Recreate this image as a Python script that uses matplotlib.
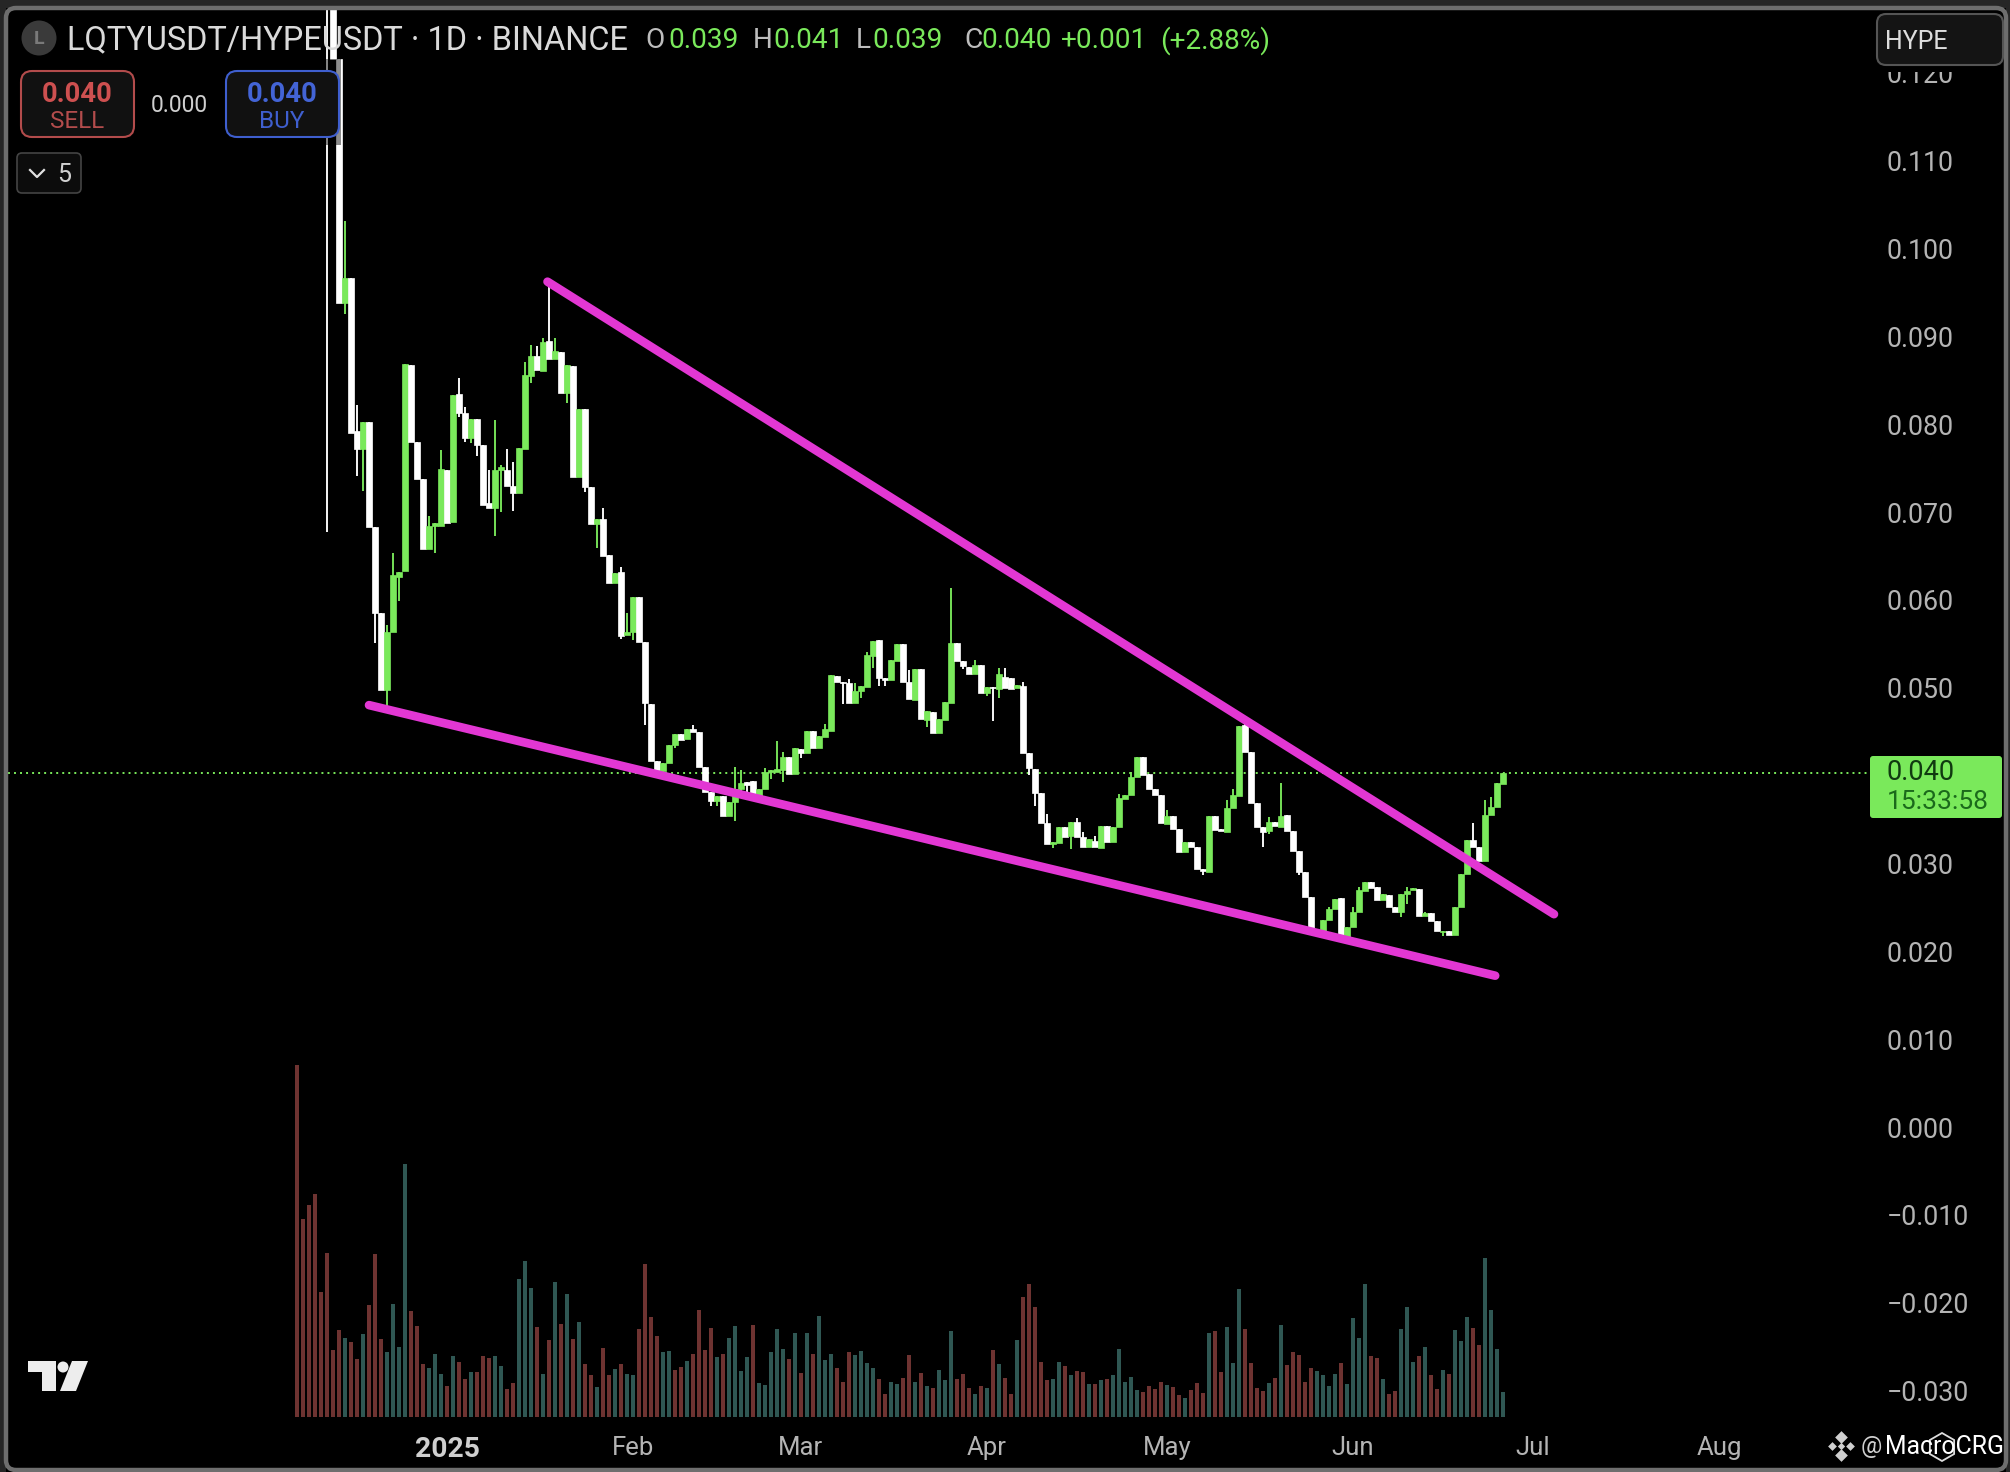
import numpy as np
import pandas as pd
import matplotlib
matplotlib.use("Agg")
import matplotlib.pyplot as plt
from matplotlib.patches import FancyBboxPatch, Rectangle, Circle, Polygon, RegularPolygon
from matplotlib.transforms import ScaledTranslation

plt.rcParams['font.family'] = ['Roboto', 'DejaVu Sans']

W, H = 2010, 1472
first_day = pd.Timestamp('2024-12-07')

# Candle prices, in thousandths of the quote unit. The first bars are above the visible range (estimates).
open_ = [330,250,205,180,165,150,140,121.7,94.0,96.8,
 79.4,77.4,80.4,68.5,58.7,49.9,56.5,62.8,63.5,86.9,
 78.2,73.9,66.0,68.6,68.6,75.0,69.0,83.6,81.4,78.6,
 80.8,77.8,71.2,70.6,75.0,75.0,73.1,72.3,77.4,85.7,
 87.9,86.2,89.6,87.6,88.4,83.7,86.8,74.2,81.9,73.0,
 68.8,69.4,65.3,62.1,63.4,56.2,56.5,60.5,55.4,48.3,
 41.8,40.7,41.6,43.7,44.9,44.3,45.5,45.1,41.2,38.3,
 37.3,37.9,35.6,37.2,38.7,39.4,39.6,37.5,38.7,40.6,
 40.6,40.8,42.3,40.4,43.2,42.8,45.3,43.3,44.6,45.3,
 51.5,50.8,50.7,48.4,49.8,50.3,53.8,55.6,51.3,51.1,
 53.2,55.2,50.8,48.8,52.3,46.5,47.4,45.0,46.5,48.4,
 55.3,53.2,52.5,51.7,52.8,49.6,50.3,50.0,51.4,51.3,
 50.1,50.4,42.7,40.9,38.2,34.8,32.4,32.5,34.3,33.3,
 34.9,33.2,32.0,32.7,31.9,34.4,32.6,34.3,37.5,38.0,
 40.0,42.3,40.4,38.7,38.0,34.7,35.6,34.1,31.5,32.6,
 32.0,29.5,29.2,35.6,34.1,33.8,36.5,37.9,45.9,42.9,
 37.1,34.3,33.9,34.9,34.3,35.7,33.9,31.6,29.2,26.4,
 22.4,22.4,23.7,25.0,26.2,21.6,22.9,24.7,27.0,28.1,
 27.5,26.0,26.6,25.2,24.7,26.7,27.2,27.3,24.2,24.5,
 23.6,22.4,22.5,22.0,25.2,29.0,32.8,32.0,30.5,35.7,
 36.6,39.2]
close = [250,205,180,165,150,140,121.7,94.0,96.8,79.2,
 77.4,80.4,68.5,58.7,49.9,56.5,63.0,63.4,87.0,78.2,
 73.9,66.0,68.6,68.9,75.1,68.9,83.5,81.4,78.6,80.8,
 77.8,71.0,70.6,75.0,75.3,73.1,72.3,77.5,85.8,87.9,
 86.4,89.5,87.6,88.5,83.7,86.9,74.2,81.9,73.0,68.8,
 69.4,65.2,62.1,63.2,56.1,56.5,60.5,55.4,48.4,41.8,
 40.8,41.6,43.7,44.9,44.2,45.5,45.1,41.2,38.3,37.3,
 37.9,35.6,37.2,38.7,39.3,39.1,37.5,38.7,40.6,40.8,
 40.9,42.3,40.4,43.3,42.8,45.3,43.3,44.7,45.5,51.6,
 50.8,50.7,48.4,49.8,50.4,53.9,55.5,51.3,51.1,53.3,
 55.2,50.8,48.9,52.3,46.6,47.5,45.0,46.6,48.6,55.3,
 53.2,52.7,51.7,52.8,49.6,50.3,50.1,51.7,50.1,50.0,
 50.5,42.7,41.0,38.2,34.8,32.4,32.6,34.3,33.2,34.9,
 33.2,32.0,33.0,32.0,34.4,32.6,34.3,37.6,38.0,40.0,
 42.3,40.2,38.7,38.0,34.8,35.6,34.1,31.5,32.6,32.0,
 29.5,29.3,35.6,34.0,33.9,36.5,38.0,45.8,42.9,37.1,
 34.3,33.8,34.9,34.4,35.6,33.9,31.6,29.2,26.4,22.5,
 22.6,23.7,25.0,26.1,21.4,22.9,24.7,27.2,28.1,27.4,
 26.0,26.7,25.2,24.7,26.7,27.0,27.4,24.2,24.5,23.6,
 22.5,22.5,22.0,25.2,29.0,32.8,32.0,30.5,35.7,36.6,
 39.3,40.5]
high = [340,255,210,190,170,155,142,121.7,103.3,96.8,
 82.4,80.4,80.4,68.5,58.7,57.3,65.5,63.4,87.0,86.9,
 78.2,73.9,69.7,68.9,77.2,75.0,83.5,85.4,82.1,80.8,
 80.8,77.8,75.0,80.7,75.5,77.4,75.9,77.5,87.3,89.2,
 89.1,90.0,96.4,90.0,88.4,86.9,86.8,81.9,81.9,73.0,
 69.4,70.6,65.3,63.2,63.9,58.7,60.5,60.5,55.4,48.3,
 41.8,41.6,43.7,44.9,44.9,45.5,45.9,45.1,41.2,38.3,
 37.9,37.9,37.2,41.2,40.8,39.4,39.6,38.7,41.0,40.8,
 44.1,42.9,42.3,43.3,43.2,45.3,45.3,44.7,46.1,51.6,
 51.5,50.8,51.2,50.7,50.4,54.3,55.5,55.6,51.3,53.3,
 55.2,55.2,52.2,52.3,52.3,47.5,47.4,46.6,48.6,61.5,
 55.3,53.2,52.5,53.3,52.8,50.3,50.3,52.4,52.4,51.3,
 50.5,50.8,42.7,40.9,38.2,35.8,32.6,34.3,34.3,34.9,
 35.3,33.8,33.0,33.3,34.4,34.4,34.3,38.1,38.0,40.6,
 42.3,42.3,40.4,38.7,38.0,36.3,35.6,34.1,32.6,32.6,
 32.0,29.5,35.6,35.6,34.1,37.4,38.7,45.8,46.7,42.9,
 37.1,34.3,35.5,34.9,39.3,35.7,33.9,31.6,29.2,26.4,
 22.6,23.7,25.2,26.1,26.2,22.9,25.2,27.5,28.1,28.1,
 27.5,26.7,26.6,25.2,26.7,27.5,27.4,27.3,24.7,24.5,
 23.6,22.5,22.5,25.2,29.0,32.8,34.8,32.0,37.4,37.7,
 39.3,40.5]
low = [240,200,175,160,145,67.9,121.7,94.0,92.7,79.2,
 74.3,72.6,68.5,55.3,49.9,48.0,56.5,60.1,63.5,78.2,
 73.9,66.0,66.0,65.5,68.6,68.9,69.0,81.0,78.2,78.0,
 76.6,71.0,70.6,67.4,70.2,73.1,70.3,72.3,77.4,84.9,
 86.4,86.2,87.6,87.6,83.7,82.6,74.2,74.2,72.5,68.8,
 66.1,65.2,62.1,62.1,55.7,56.2,55.6,55.4,45.9,41.8,
 39.9,40.5,41.6,43.3,44.2,44.3,45.1,41.2,38.3,36.7,
 36.7,35.6,35.6,35.0,37.7,38.0,37.5,37.5,38.7,39.8,
 40.6,39.4,40.4,40.4,42.2,42.8,43.3,43.3,44.6,45.3,
 50.8,48.3,48.4,48.4,49.0,50.3,52.4,50.4,50.4,51.1,
 53.2,50.8,48.9,48.8,46.6,45.7,45.0,45.0,46.5,48.4,
 53.2,52.3,51.7,51.7,49.6,49.2,46.4,49.0,50.1,50.0,
 50.1,42.7,40.2,36.7,34.8,32.4,31.9,32.5,33.2,31.8,
 33.2,32.0,32.0,32.0,31.9,32.6,32.6,34.3,37.5,38.0,
 40.0,40.2,38.7,38.0,34.8,34.7,34.1,31.5,31.5,32.0,
 29.5,28.9,29.2,34.0,33.9,33.8,36.5,37.9,42.9,37.1,
 34.3,32.0,33.5,34.4,34.3,33.9,31.6,28.9,26.4,22.5,
 22.4,22.4,23.7,25.0,21.4,21.6,22.9,24.7,27.0,27.4,
 26.0,26.0,25.2,24.7,24.1,25.6,27.2,24.2,24.2,23.6,
 22.5,21.9,22.0,22.0,25.2,29.0,32.0,30.5,30.5,35.7,
 36.6,39.2]

# Volume pane (no scale in the source, relative units) and the side of each bar
volume = [1055,595,635,670,375,493,202,260,238,224,
 175,248,335,490,233,194,340,209,760,317,
 272,158,146,188,128,92,182,164,113,134,
 134,182,176,182,152,83,101,413,467,386,
 269,128,230,404,278,370,233,284,158,125,
 89,206,125,143,158,128,125,263,458,299,
 242,194,197,140,149,167,188,320,200,266,
 179,188,236,272,137,179,275,101,95,194,
 263,203,173,251,131,251,188,302,170,188,
 146,104,194,185,197,161,146,113,68,104,
 98,116,185,104,131,92,86,140,110,257,
 113,128,86,68,92,86,200,158,116,68,
 230,359,398,329,164,110,113,164,152,125,
 137,134,98,98,110,113,125,203,104,119,
 80,74,92,83,104,95,89,65,56,80,
 101,71,251,257,134,269,161,383,263,161,
 86,77,101,116,275,155,194,185,104,146,
 137,125,92,128,161,98,296,236,398,182,
 176,113,68,77,263,329,164,182,209,125,
 83,140,128,260,227,299,266,215,476,320,
 203,74]
volume_side = ("rrrrrrrrgr" "rgrrrggggr" "rrgggrgrrg" "rrrggrrggg" "rgrgrgrgrr"
               "grrgrggrrr" "rggrrgrrrr" "grggggrggg" "ggrgrgrggg" "rrrggggrrg"
               "grrgrgrggg" "rrrgrgrgrr" "grrrrrggrg" "rrgrgrgggg" "grrrrgrrgr"
               "rrgrrgggrr" "rrgrgrrrrr" "ggggrggggr" "rgrrgggrgr" "rgrgggrrgg"
               "gg")

# Trend lines: day offset from the first bar, price in thousandths
upper_days = [41.75, 209.5]
upper_prices = [96.4, 24.4]
lower_days = [12.0, 199.7]
lower_prices = [48.2, 17.4]

last_price = 40.47
y_tick_values = [120, 110, 100, 90, 80, 70, 60, 50, 30, 20, 10, 0, -10, -20, -30]
y_tick_labels = ['0.120', '0.110', '0.100', '0.090', '0.080', '0.070', '0.060', '0.050',
                 '0.030', '0.020', '0.010', '0.000', '\u22120.010', '\u22120.020', '\u22120.030']
x_tick_dates = ['2025-01-01', '2025-02-01', '2025-03-01', '2025-04-01', '2025-05-01',
                '2025-06-01', '2025-07-01', '2025-08-01']
x_tick_labels = ['2025', 'Feb', 'Mar', 'Apr', 'May', 'Jun', 'Jul', 'Aug']

GREEN = '#7AE95B'
WHITE = '#FFFFFF'
MAGENTA = '#E237D3'
VOL_R = '#6E3331'
VOL_G = '#2F5753'
TICK = '#B4B4B4'

fig = plt.figure(figsize=(W / 100, H / 100), dpi=100, facecolor='#262626')

# Black screen behind every pane
fig.add_artist(Rectangle((6 / W, 0), (W - 10) / W, 1 - 8 / H, transform=fig.transFigure,
                         fc='black', ec='none', zorder=-5))

# Pane geometry (pixels)
L, R, T, B = 8, 1870, 9, 1420
rect = [L / W, 1 - B / H, (R - L) / W, (B - T) / H]
ax = fig.add_axes(rect, facecolor='black')
ax.set_xlim((L - 297) / 6, (R - 297) / 6)
px_per_unit = 8.785
ax.set_ylim((1128.55 - B) / px_per_unit, (1128.55 - T) / px_per_unit)

days = np.arange(len(open_))
o, c, h, l = map(np.array, (open_, close, high, low))
up = c >= o
cols = np.where(up, GREEN, WHITE)

# volume on its own scale, same pane
axv = ax.twinx()
axv.set_ylim(-9, (1417 - T) * 3)
axv.bar(days, volume, width=0.66, color=[VOL_R if s == 'r' else VOL_G for s in volume_side], linewidth=0)
axv.set_yticks([])
ax.set_zorder(axv.get_zorder() + 1)
ax.patch.set_visible(False)
for a in (ax, axv):
    for s in a.spines.values():
        s.set_visible(False)

ax.hlines(last_price, ax.get_xlim()[0], ax.get_xlim()[1], color=GREEN, lw=1.4,
          linestyles=(0, (1.0, 2.1)), zorder=1)
ax.vlines(days, l, h, colors=cols, lw=1.35, zorder=2)
ax.bar(days, np.abs(c - o), bottom=np.minimum(o, c), width=0.98, color=cols, edgecolor=cols,
       linewidth=0.5, zorder=3)
ax.plot(upper_days, upper_prices, color=MAGENTA, lw=6.2, solid_capstyle='round', zorder=4)
ax.plot(lower_days, lower_prices, color=MAGENTA, lw=6.2, solid_capstyle='round', zorder=4)

# axes ticks
ax.yaxis.tick_right()
ax.set_yticks(y_tick_values)
ax.set_yticklabels(y_tick_labels, color=TICK, fontsize=19.3)
ax.tick_params(axis='y', length=0, pad=12.2)
for t in ax.get_yticklabels():
    t.set_transform(t.get_transform() + ScaledTranslation(0, 1.5 / 100, fig.dpi_scale_trans))
xt = [(pd.Timestamp(d) - first_day).days for d in x_tick_dates]
ax.set_xticks(xt)
ax.set_xticklabels(x_tick_labels, color=TICK, fontsize=18.5)
ax.tick_params(axis='x', length=0, pad=11.7)
ax.get_xticklabels()[0].set_fontweight('bold')
ax.get_xticklabels()[0].set_fontsize(20.3)
ax.get_xticklabels()[0].set_color('#CFCFCF')

# Screen chrome, in pixels
ui = fig.add_axes([0, 0, 1, 1], zorder=10)
ui.set_xlim(0, W)
ui.set_ylim(H, 0)
ui.axis('off')
ui.patch.set_visible(False)

ui.add_patch(Rectangle((L, 59), 333, 86, fc='black', alpha=0.45, lw=0))
ui.add_patch(Rectangle((1871, 9), 134, 63, fc='black', lw=0))

# frame
ui.add_patch(FancyBboxPatch((6, 8), W - 10, H - 10, boxstyle='round,pad=0,rounding_size=10',
                            fc='none', ec='#6E6E6E', lw=3.2))

def box(x0, y0, x1, y1, ec, fc='#111111', r=11, lw=1.5):
    ui.add_patch(FancyBboxPatch((x0, y0), x1 - x0, y1 - y0, boxstyle=f'round,pad=0,rounding_size={r}',
                                fc=fc, ec=ec, lw=lw))

def text(x, y, s, color, size, ha='left', weight='normal'):
    ui.text(x, y, s, color=color, fontsize=size, ha=ha, va='center', fontweight=weight)

# logo and title
ui.add_patch(Circle((39, 38), 17.5, fc='#3A3A3A', ec='none'))
text(39, 39, 'L', '#7A7A7A', 14, ha='center', weight='bold')
text(67, 40.5, 'LQTYUSDT/HYPEUSDT \u00b7 1D \u00b7 BINANCE', '#DADADA', 23.45)
for x, s, col in [(645, 'O', '#BDBDBD'), (668, '0.039', GREEN), (753, 'H', '#BDBDBD'), (773, '0.041', GREEN),
                  (856, 'L', '#BDBDBD'), (872, '0.039', GREEN), (964, 'C', '#BDBDBD'), (981, '0.040', GREEN),
                  (1061, '+0.001', GREEN), (1160, '(+2.88%)', GREEN)]:
    text(x, 40.5, s, col, 20.2)

# sell / buy
box(21, 71, 134, 137, '#B34C4C')
text(77, 94, '0.040', '#CE5050', 19.8, ha='center', weight='bold')
text(77, 122, 'SELL', '#B34C4C', 17.5, ha='center')
text(179, 106, '0.000', '#CFCFCF', 16.5, ha='center')
box(226, 71, 339, 137, '#3F5FCF')
text(282, 94, '0.040', '#4364D6', 19.8, ha='center', weight='bold')
text(282, 122, 'BUY', '#3F5FCF', 17.5, ha='center')

box(17, 153, 81, 193, '#444444', fc='#0C0C0C', r=5, lw=1.2)
ui.plot([30, 37, 44], [170, 177, 170], color='#E0E0E0', lw=1.6)
text(64, 175, '5', '#D0D0D0', 18, ha='center')

box(1877, 14, 2003, 65, '#555555', fc='#141414', r=9)
text(1885, 42, 'HYPE', '#DDDDDD', 18)

# price label
ui.add_patch(FancyBboxPatch((1870, 756), 132, 62, boxstyle='round,pad=0,rounding_size=3', fc=GREEN, ec='none'))
text(1887, 773, '0.040', '#103A10', 19.5)
text(1887, 802, '15:33:58', '#1B6A1B', 19)

# TradingView mark
ui.add_patch(Polygon([(28, 1361), (56, 1361), (56, 1391), (42, 1391), (42, 1372), (28, 1372)], fc='#EDEDED', ec='none'))
ui.add_patch(Circle((63, 1367), 5.5, fc='#EDEDED', ec='none'))
ui.add_patch(Polygon([(72, 1361), (88, 1361), (76, 1391), (60, 1391)], fc='#EDEDED', ec='none'))

# watermark
for dx, dy, s in [(0, -9, 42), (-9, 0, 20), (9, 0, 20), (0, 9, 42), (0, 0, 14)]:
    ui.scatter([1841 + dx], [1446 + dy], marker='D', s=s, color='#CFCFCF', linewidths=0)
text(1861, 1446, '@', '#CFCFCF', 17)
text(1885, 1447, 'MacroCRG', '#FFFFFF', 17.8)
ui.add_patch(RegularPolygon((1942, 1447), 6, radius=14, fc='none', ec='#DDDDDD', lw=1.3))

fig.savefig('out.png', dpi=100, facecolor=fig.get_facecolor())
